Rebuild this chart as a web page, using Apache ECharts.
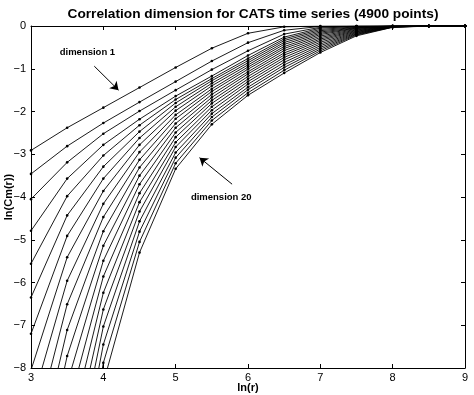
<!DOCTYPE html>
<html>
<head>
<meta charset="utf-8">
<script src="https://cdn.jsdelivr.net/npm/echarts@6/dist/echarts.min.js"></script>
<style>
html,body{margin:0;padding:0;background:#fff;}
#chart{width:474px;height:395px;}
</style>
</head>
<body>
<div id="chart"></div>
<script>
// ln(r) sample positions
const lnR = [3, 3.5, 4, 4.5, 5, 5.5, 6, 6.5, 7, 7.5, 8, 8.5, 9];
// ln(Cm(r)) for dimensions 1..20 at each ln(r) column
const at3_0 = [-2.91,-3.46,-4.05,-4.79,-5.56,-6.35,-7.20,-8.05,-8.9,-9.8,-10.7,-11.6,-12.5,-13.4,-14.3,-15.2,-16.1,-17.0,-17.9,-18.8];
const at3_5 = [-2.38,-2.81,-3.19,-3.57,-3.98,-4.43,-4.91,-5.41,-5.96,-6.51,-7.11,-7.72,-8.36,-9.02,-9.70,-10.40,-11.12,-11.86,-12.62,-13.40];
const at4_0 = [-1.91,-2.27,-2.52,-2.78,-3.03,-3.29,-3.57,-3.86,-4.16,-4.47,-4.80,-5.14,-5.49,-5.86,-6.24,-6.63,-7.03,-7.45,-7.88,-8.35];
const at4_5 = [-1.44,-1.78,-1.99,-2.18,-2.32,-2.47,-2.62,-2.78,-2.95,-3.13,-3.31,-3.50,-3.70,-3.91,-4.12,-4.34,-4.57,-4.81,-5.05,-5.30];
const at5_0 = [-0.97,-1.30,-1.50,-1.64,-1.72,-1.80,-1.89,-1.98,-2.08,-2.17,-2.28,-2.38,-2.49,-2.60,-2.72,-2.83,-2.96,-3.08,-3.21,-3.34];
const at5_5 = [-0.52,-0.82,-1.02,-1.17,-1.23,-1.28,-1.34,-1.40,-1.47,-1.53,-1.60,-1.67,-1.74,-1.81,-1.89,-1.97,-2.05,-2.13,-2.21,-2.30];
const at6_0 = [-0.17,-0.39,-0.58,-0.69,-0.76,-0.81,-0.86,-0.91,-0.96,-1.01,-1.07,-1.12,-1.18,-1.24,-1.30,-1.36,-1.43,-1.49,-1.56,-1.62];
const at6_5 = [-0.02,-0.10,-0.19,-0.26,-0.30,-0.34,-0.385,-0.43,-0.48,-0.525,-0.575,-0.63,-0.68,-0.735,-0.79,-0.85,-0.91,-0.97,-1.035,-1.10];
const at7_0 = [0,-0.01,-0.03,-0.05,-0.08,-0.11,-0.14,-0.17,-0.20,-0.235,-0.27,-0.305,-0.34,-0.38,-0.42,-0.46,-0.50,-0.54,-0.58,-0.62];
const at7_5 = [0,0,-0.005,-0.01,-0.02,-0.03,-0.04,-0.05,-0.06,-0.075,-0.09,-0.105,-0.12,-0.135,-0.15,-0.165,-0.18,-0.195,-0.21,-0.23];
const at8_0 = [0,0,0,0,0,0,0,0,-0.005,-0.005,-0.01,-0.01,-0.012,-0.015,-0.018,-0.02,-0.022,-0.025,-0.028,-0.03];
const at8_5 = [0,0,0,0,0,0,0,0,0,0,0,0,0,0,0,0,0,0,0,-0.003];
const at9_0 = [0,0,0,0,0,0,0,0,0,0,0,0,0,0,0,0,0,0,0,0];
const xTicks = [3,4,5,6,7,8,9];
const yTicks = [0,-1,-2,-3,-4,-5,-6,-7,-8];

const columns = [at3_0,at3_5,at4_0,at4_5,at5_0,at5_5,at6_0,at6_5,at7_0,at7_5,at8_0,at8_5,at9_0];
const nDims = at3_0.length;

const series = [];
for (let m = 0; m < nDims; m++) {
  series.push({
    name: 'dimension ' + (m + 1),
    type: 'line',
    xAxisIndex: 0, yAxisIndex: 0,
    data: lnR.map((x, i) => [x, columns[i][m]]),
    symbol: 'circle',
    symbolSize: 2.6,
    showSymbol: true,
    clip: true,
    silent: true,
    animation: false,
    itemStyle: { color: '#000' },
    lineStyle: { color: '#000', width: 0.9 }
  });
}
// annotations (arrows and labels) in data coordinates
series.push({
  type: 'line', data: [], silent: true, animation: false,
  markLine: {
    silent: true, animation: false,
    symbol: ['none', 'arrow'], symbolSize: 8,
    lineStyle: { color: '#000', width: 1, type: 'solid' },
    label: { show: false },
    data: [
      [{ coord: [3.875, -0.94] }, { coord: [4.21, -1.50] }],
      [{ coord: [5.78, -3.70] }, { coord: [5.33, -3.08] }]
    ]
  },
  markPoint: {
    silent: true, animation: false,
    symbol: 'circle', symbolSize: 0,
    label: { show: true, position: 'inside', color: '#000', fontWeight: 'bold', fontSize: 9.5, fontFamily: 'Liberation Sans, Arial, sans-serif' },
    data: [
      { coord: [3.78, -0.62], value: 'dimension 1', label: { formatter: 'dimension 1' } },
      { coord: [5.63, -4.0], value: 'dimension 20', label: { formatter: 'dimension 20' } }
    ]
  }
});

const font = 'Liberation Sans, Arial, Helvetica, sans-serif';
const minus = v => (v < 0 ? '\u2212' + Math.abs(v) : String(v));

const chart = echarts.init(document.getElementById('chart'), null, { renderer: 'canvas' });
chart.setOption({
  animation: false,
  backgroundColor: '#fff',
  title: {
    text: 'Correlation dimension for CATS time series (4900 points)',
    left: 248, textAlign: 'center', top: 2,
    textStyle: { color: '#000', fontSize: 13.7, fontWeight: 'bold', fontFamily: font }
  },
  grid: { left: 31, right: 9, top: 26, bottom: 27, containLabel: false, outerBoundsMode: 'none' },
  xAxis: [{
    type: 'value', min: 3, max: 9, interval: 1, position: 'bottom',
    name: 'ln(r)', nameLocation: 'middle', nameGap: 14, nameMoveOverlap: false,
    nameTextStyle: { color: '#000', fontSize: 11, fontWeight: 'bold', fontFamily: font },
    axisLine: { show: true, onZero: false, lineStyle: { color: '#000', width: 1 } },
    axisTick: { show: true, inside: true, length: 4, lineStyle: { color: '#000' } },
    axisLabel: { color: '#000', fontSize: 11, margin: 4, fontFamily: font,
      formatter: v => xTicks.includes(v) ? String(v) : '' },
    splitLine: { show: false }
  }, {
    type: 'value', min: 3, max: 9, interval: 1, position: 'top',
    axisLine: { show: true, onZero: false, lineStyle: { color: '#000', width: 1 } },
    axisTick: { show: true, inside: true, length: 4, lineStyle: { color: '#000' } },
    axisLabel: { show: false }, splitLine: { show: false }
  }],
  yAxis: [{
    type: 'value', min: -8, max: 0, interval: 1, position: 'left',
    name: 'ln(Cm(r))', nameLocation: 'middle', nameGap: 17, nameRotate: 90, nameMoveOverlap: false,
    nameTextStyle: { color: '#000', fontSize: 11, fontWeight: 'bold', fontFamily: font },
    axisLine: { show: true, onZero: false, lineStyle: { color: '#000', width: 1 } },
    axisTick: { show: true, inside: true, length: 4, lineStyle: { color: '#000' } },
    axisLabel: { color: '#000', fontSize: 11, margin: 5, fontFamily: font,
      formatter: v => yTicks.includes(v) ? minus(v) : '' },
    splitLine: { show: false }
  }, {
    type: 'value', min: -8, max: 0, interval: 1, position: 'right',
    axisLine: { show: true, onZero: false, lineStyle: { color: '#000', width: 1 } },
    axisTick: { show: true, inside: true, length: 4, lineStyle: { color: '#000' } },
    axisLabel: { show: false }, splitLine: { show: false }
  }],
  series: series
});
</script>
</body>
</html>
